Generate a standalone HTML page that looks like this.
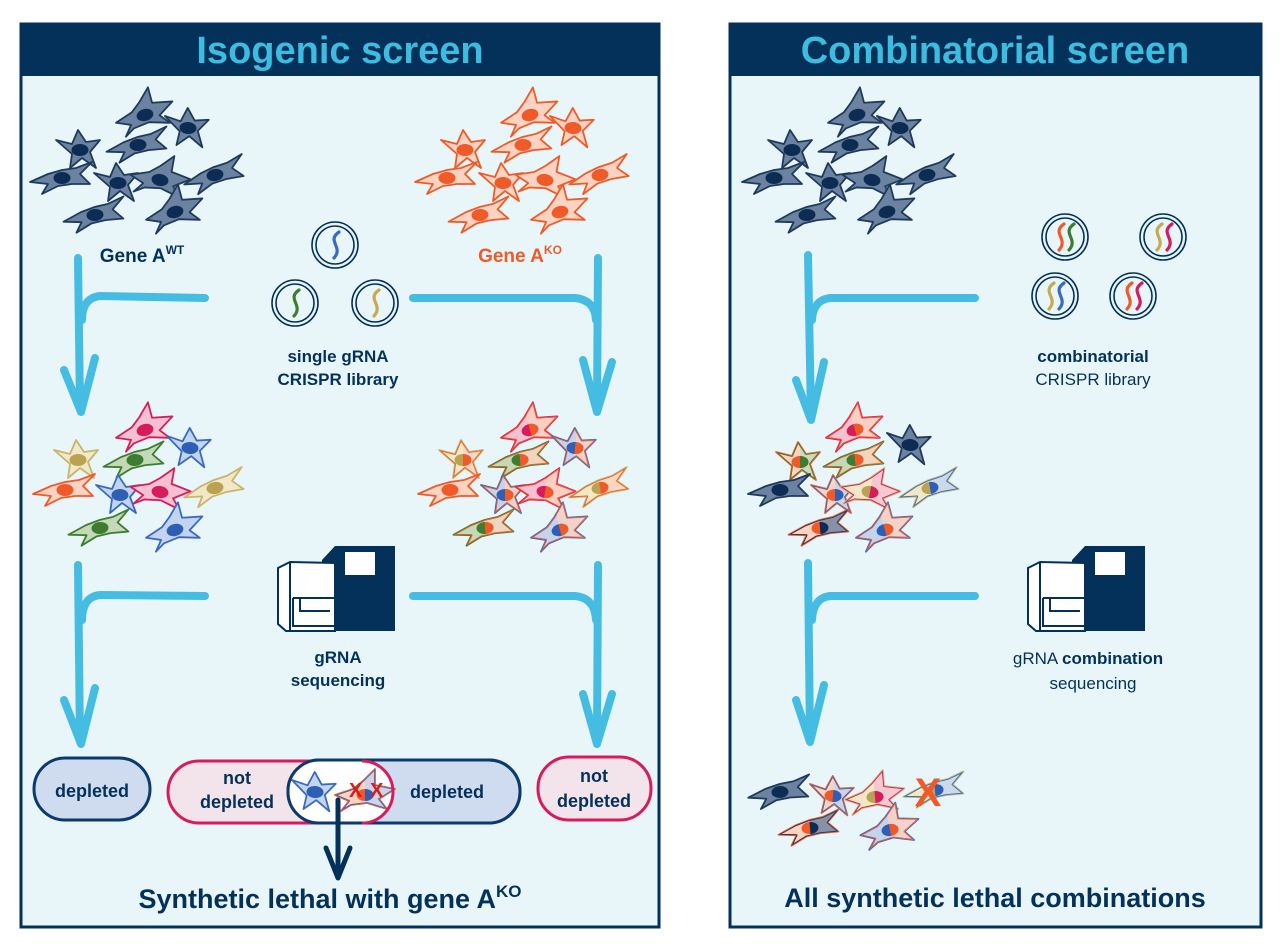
<!DOCTYPE html>
<html><head><meta charset="utf-8"><style>
html,body{margin:0;padding:0;background:#fff}
svg{display:block}
text{font-family:"Liberation Sans",sans-serif}
</style></head><body>
<svg id="s" width="1280" height="946" viewBox="0 0 1280 946" xmlns="http://www.w3.org/2000/svg">
<defs>
<g id="seq">
 <path d="M322,560 L335,546 L395,546 L395,631 L322,631 Z" fill="#04315a"/>
 <rect x="345" y="552" width="30" height="23" fill="#fff"/>
 <path d="M278,568 L290,562 L335,563 L335,631 L286,631 L278,624 Z" fill="#fff" stroke="#04315a" stroke-width="2"/>
 <path d="M290,563 L290,631" stroke="#04315a" stroke-width="2"/>
 <path d="M293,598 L335,598 M293,598 L293,626 L335,626 M300,598 L300,611 L330,611" fill="none" stroke="#04315a" stroke-width="2"/>
</g>
</defs>
<rect x="21" y="24" width="638" height="903" fill="#e8f6f9" stroke="#04315a" stroke-width="3"/>
<rect x="20" y="23" width="640" height="53" fill="#04315a"/>
<text x="340" y="63" text-anchor="middle" font-size="38" font-weight="bold" fill="#3cbde0">Isogenic screen</text>
<rect x="730" y="24" width="531" height="903" fill="#e8f6f9" stroke="#04315a" stroke-width="3"/>
<rect x="729" y="23" width="533" height="53" fill="#04315a"/>
<text x="995" y="63" text-anchor="middle" font-size="38" font-weight="bold" fill="#3cbde0">Combinatorial screen</text>

<g fill="none" stroke="#45bde3" stroke-width="8" stroke-linecap="round" stroke-linejoin="round">
 <path d="M78,258 L80,410 M64,370 L81,412 L95,358"/>
 <path d="M205,298 L100,296 Q82,298 82,320"/>
 <path d="M598,258 L597,410 M583,360 L597,412 L612,362"/>
 <path d="M413,298 L575,298 Q595,300 596,320"/>
 <path d="M78,565 L80,742 M64,700 L81,744 L95,688"/>
 <path d="M205,596 L100,595 Q82,597 82,620"/>
 <path d="M598,565 L597,742 M583,694 L597,744 L612,694"/>
 <path d="M413,596 L575,596 Q595,598 596,620"/>
 <path d="M808,255 L811,418 M796,380 L811,420 L824,362"/>
 <path d="M975,298 L830,298 Q813,300 812,320"/>
 <path d="M808,563 L810,740 M796,700 L810,742 L824,685"/>
 <path d="M975,596 L830,596 Q813,598 812,620"/>
</g>

<g id="cells"></g>
<g id="pl" fill="none" stroke="#04315a" stroke-width="1.6"></g>

<use href="#seq"/>
<use href="#seq" transform="translate(750,0)"/>

<g font-weight="bold" font-size="19" fill="#04315a" text-anchor="middle">
 <text x="142" y="262">Gene A<tspan font-size="12" dy="-8">WT</tspan></text>
 <text x="520" y="262" fill="#f05a28">Gene A<tspan font-size="12" dy="-8">KO</tspan></text>
 <text x="338" y="362" font-size="17">single gRNA</text>
 <text x="338" y="385" font-size="17">CRISPR library</text>
 <text x="338" y="663" font-size="17">gRNA</text>
 <text x="338" y="686" font-size="17">sequencing</text>
 <text x="1093" y="362" font-size="17">combinatorial</text>
 <text x="1093" y="385" font-size="17" font-weight="normal">CRISPR library</text>
 <text x="1088" y="664" font-size="17"><tspan font-weight="normal">gRNA </tspan>combination</text>
 <text x="1093" y="689" font-size="17" font-weight="normal">sequencing</text>
</g>

<rect x="34" y="758" width="116" height="62" rx="31" fill="#cfdcf0" stroke="#0d3a6d" stroke-width="3"/>
<rect x="538" y="757" width="113" height="63" rx="31" fill="#f3e3ea" stroke="#d81b5a" stroke-width="3"/>
<rect x="168" y="761" width="225" height="62" rx="31" fill="#f3e3ea" stroke="#d81b5a" stroke-width="3"/>
<rect x="288" y="760" width="232" height="63" rx="31" fill="#cfdcf0" stroke="#0d3a6d" stroke-width="3"/>
<clipPath id="cp"><rect x="168" y="761" width="225" height="62" rx="31"/></clipPath>
<rect x="288" y="760" width="232" height="63" rx="31" fill="#fff" clip-path="url(#cp)"/>
<g id="ov"></g>
<rect x="288" y="760" width="232" height="63" rx="31" fill="none" stroke="#0d3a6d" stroke-width="3"/>
<path d="M393,792 a31,31 0 0 1 -31,31 M393,792 a31,31 0 0 0 -31,-31" fill="none" stroke="#d81b5a" stroke-width="3"/>
<g font-weight="bold" font-size="18" fill="#04315a" text-anchor="middle">
 <text x="92" y="797">depleted</text>
 <text x="237" y="784">not</text>
 <text x="237" y="808">depleted</text>
 <text x="447" y="798">depleted</text>
 <text x="594" y="782">not</text>
 <text x="594" y="807">depleted</text>
</g>
<text x="349" y="797" font-weight="bold" font-size="20" fill="#d81b1b">X</text>
<text x="370" y="797" font-weight="bold" font-size="20" fill="#d81b1b">X</text>
<path d="M338,800 L338,875 M326,848 L338,878 L350,848" fill="none" stroke="#04315a" stroke-width="5" stroke-linecap="round" stroke-linejoin="round"/>
<text x="330" y="908" text-anchor="middle" font-weight="bold" font-size="27" fill="#04315a">Synthetic lethal with gene A<tspan font-size="17" dy="-11">KO</tspan></text>
<text x="995" y="907" text-anchor="middle" font-weight="bold" font-size="27" fill="#04315a">All synthetic lethal combinations</text>
<g id="top"></g>
</svg>
<script>
const NS="http://www.w3.org/2000/svg";
const C={
 d:["#6b82a0","#1f3a5c","#0d2c54"],
 o:["#fbd3c2","#f05a28","#f05a28"],
 p:["#f6c0d3","#d81b5a","#d81b5a"],
 y:["#f1e8c7","#c9b56b","#b9a350"],
 g:["#c4d9b8","#3e7d2f","#3e7d2f"],
 b:["#c3d4ef","#3a6ac0","#2e5fb5"]
};
const shapes=[
"M-32,4 L-14,-4 L0,-8 L14,-10 L30,-16 L18,-4 L28,6 L10,6 L-4,8 L-20,16 L-14,6 Z",
"M-24,-10 L-8,-6 L-2,-20 L6,-8 L20,-10 L10,2 L16,18 L2,8 L-10,18 L-8,4 Z",
"M-30,0 L-12,-6 L-2,-14 L10,-26 L10,-10 L30,-6 L14,4 L22,14 L2,8 L-14,10 L-24,16 L-16,6 Z"];
function cell(par,x,y,r,a,b,k){
 const g=document.createElementNS(NS,"g");
 g.setAttribute("transform",`translate(${x},${y}) rotate(${r})`);
 const A=C[a],B=C[b||a];
 const p=document.createElementNS(NS,"path");p.setAttribute("d",shapes[k||0]);
 p.setAttribute("fill",A[0]);p.setAttribute("stroke",A[1]);p.setAttribute("stroke-width","1.8");p.setAttribute("stroke-linejoin","round");g.appendChild(p);
 if(b&&b!==a){const q=document.createElementNS(NS,"path");q.setAttribute("d","M0,-30 L40,-30 L40,30 L0,30 Z");q.setAttribute("fill",B[0]);q.setAttribute("opacity",".8");
  const id="c"+Math.random().toString(36).slice(2);const cp=document.createElementNS(NS,"clipPath");cp.id=id;const pp=p.cloneNode();cp.appendChild(pp);g.appendChild(cp);q.setAttribute("clip-path",`url(#${id})`);g.appendChild(q);
  const p2=p.cloneNode();p2.setAttribute("fill","none");p2.setAttribute("stroke",B[1]);p2.setAttribute("clip-path",`url(#${id})`);g.appendChild(p2);}
 const n=document.createElementNS(NS,"ellipse");n.setAttribute("cx",0);n.setAttribute("cy",0);n.setAttribute("rx",8.5);n.setAttribute("ry",6);n.setAttribute("fill",A[2]);g.appendChild(n);
 if(b&&b!==a){const n2=document.createElementNS(NS,"path");n2.setAttribute("d","M0,-6 A8.5,6 0 0 1 0,6 Z");n2.setAttribute("fill",B[2]);g.appendChild(n2);}
 par.appendChild(g);
}
const L=document.getElementById("cells");
const pos=[[145,115,-15,2],[80,150,0,1],[138,145,-5,0],[188,128,5,1],[62,178,0,0],[118,183,0,1],[160,180,10,2],[215,175,-10,0],[95,215,-5,0],[175,212,-15,2]];
const pos2=[[145,430,-15,2],[78,460,0,1],[135,460,-5,0],[190,448,5,1],[65,490,0,0],[120,495,0,1],[160,492,10,2],[215,488,-10,0],[100,528,-5,0],[175,530,-15,2]];
pos.forEach(p=>cell(L,p[0],p[1],p[2],"d",null,p[3]));
pos.forEach(p=>cell(L,p[0]+385,p[1],p[2],"o",null,p[3]));
pos.forEach(p=>cell(L,p[0]+712,p[1],p[2],"d",null,p[3]));
const mixL=["p","y","g","b","o","b","p","y","g","b"];
pos2.forEach((p,i)=>cell(L,p[0],p[1],p[2],mixL[i],null,p[3]));
pos2.forEach((p,i)=>cell(L,p[0]+385,p[1],p[2],mixL[i],"o",p[3]));
const mixC=[["p","o"],["o","g"],["g","o"],["d","d"],["d","d"],["o","b"],["y","p"],["y","b"],["o","d"],["b","o"]];
const pos3=[[855,430,-15,2],[800,462,0,1],[855,460,-5,0],[910,445,5,1],[780,490,0,0],[835,495,0,1],[870,492,10,2],[930,488,-10,0],[820,528,-5,0],[885,530,-15,2]];
pos3.forEach((p,i)=>cell(L,p[0],p[1],p[2],mixC[i][0],mixC[i][1],p[3]));
const pos4=[[780,792,-3,"d","d",0],[833,796,5,"o","b",1],[875,797,-5,"y","p",2],[935,790,-5,"y","b",0],[810,828,-5,"o","d",0],[890,830,-10,"b","o",2]];
pos4.forEach(p=>cell(L,p[0],p[1],p[2],p[3],p[4],p[5]));
const O=document.getElementById("ov");
cell(O,315,792,5,"b",null,1);cell(O,365,795,0,"o","b",2);
const T=document.getElementById("top");
const t=document.createElementNS(NS,"text");t.setAttribute("x",928);t.setAttribute("y",806);t.setAttribute("text-anchor","middle");t.setAttribute("font-size","40");t.setAttribute("font-weight","bold");t.setAttribute("fill","#f05a28");t.setAttribute("font-family","Liberation Sans");t.textContent="X";T.appendChild(t);
const P=document.getElementById("pl");
function plas(x,y,cols){
 [23,19].forEach(r=>{const c=document.createElementNS(NS,"circle");c.setAttribute("cx",x);c.setAttribute("cy",y);c.setAttribute("r",r);P.appendChild(c);});
 cols.forEach((col,i)=>{const dx=(i-(cols.length-1)/2)*10;const s=document.createElementNS(NS,"path");
  s.setAttribute("d",`M${x+dx+4},${y-13} C${x+dx-9},${y-4} ${x+dx+9},${y+2} ${x+dx-1},${y+13}`);s.setAttribute("stroke",col);s.setAttribute("stroke-width","3.2");s.setAttribute("stroke-linecap","round");P.appendChild(s);});
}
plas(335,245,["#3a6ac0"]);plas(295,303,["#3e7d2f"]);plas(375,303,["#c9a850"]);
plas(1065,237,["#f05a28","#3e7d2f"]);plas(1163,237,["#c9a850","#d81b5a"]);
plas(1055,296,["#c9a850","#3a6ac0"]);plas(1133,296,["#f05a28","#d81b5a"]);
</script>
</body></html>
